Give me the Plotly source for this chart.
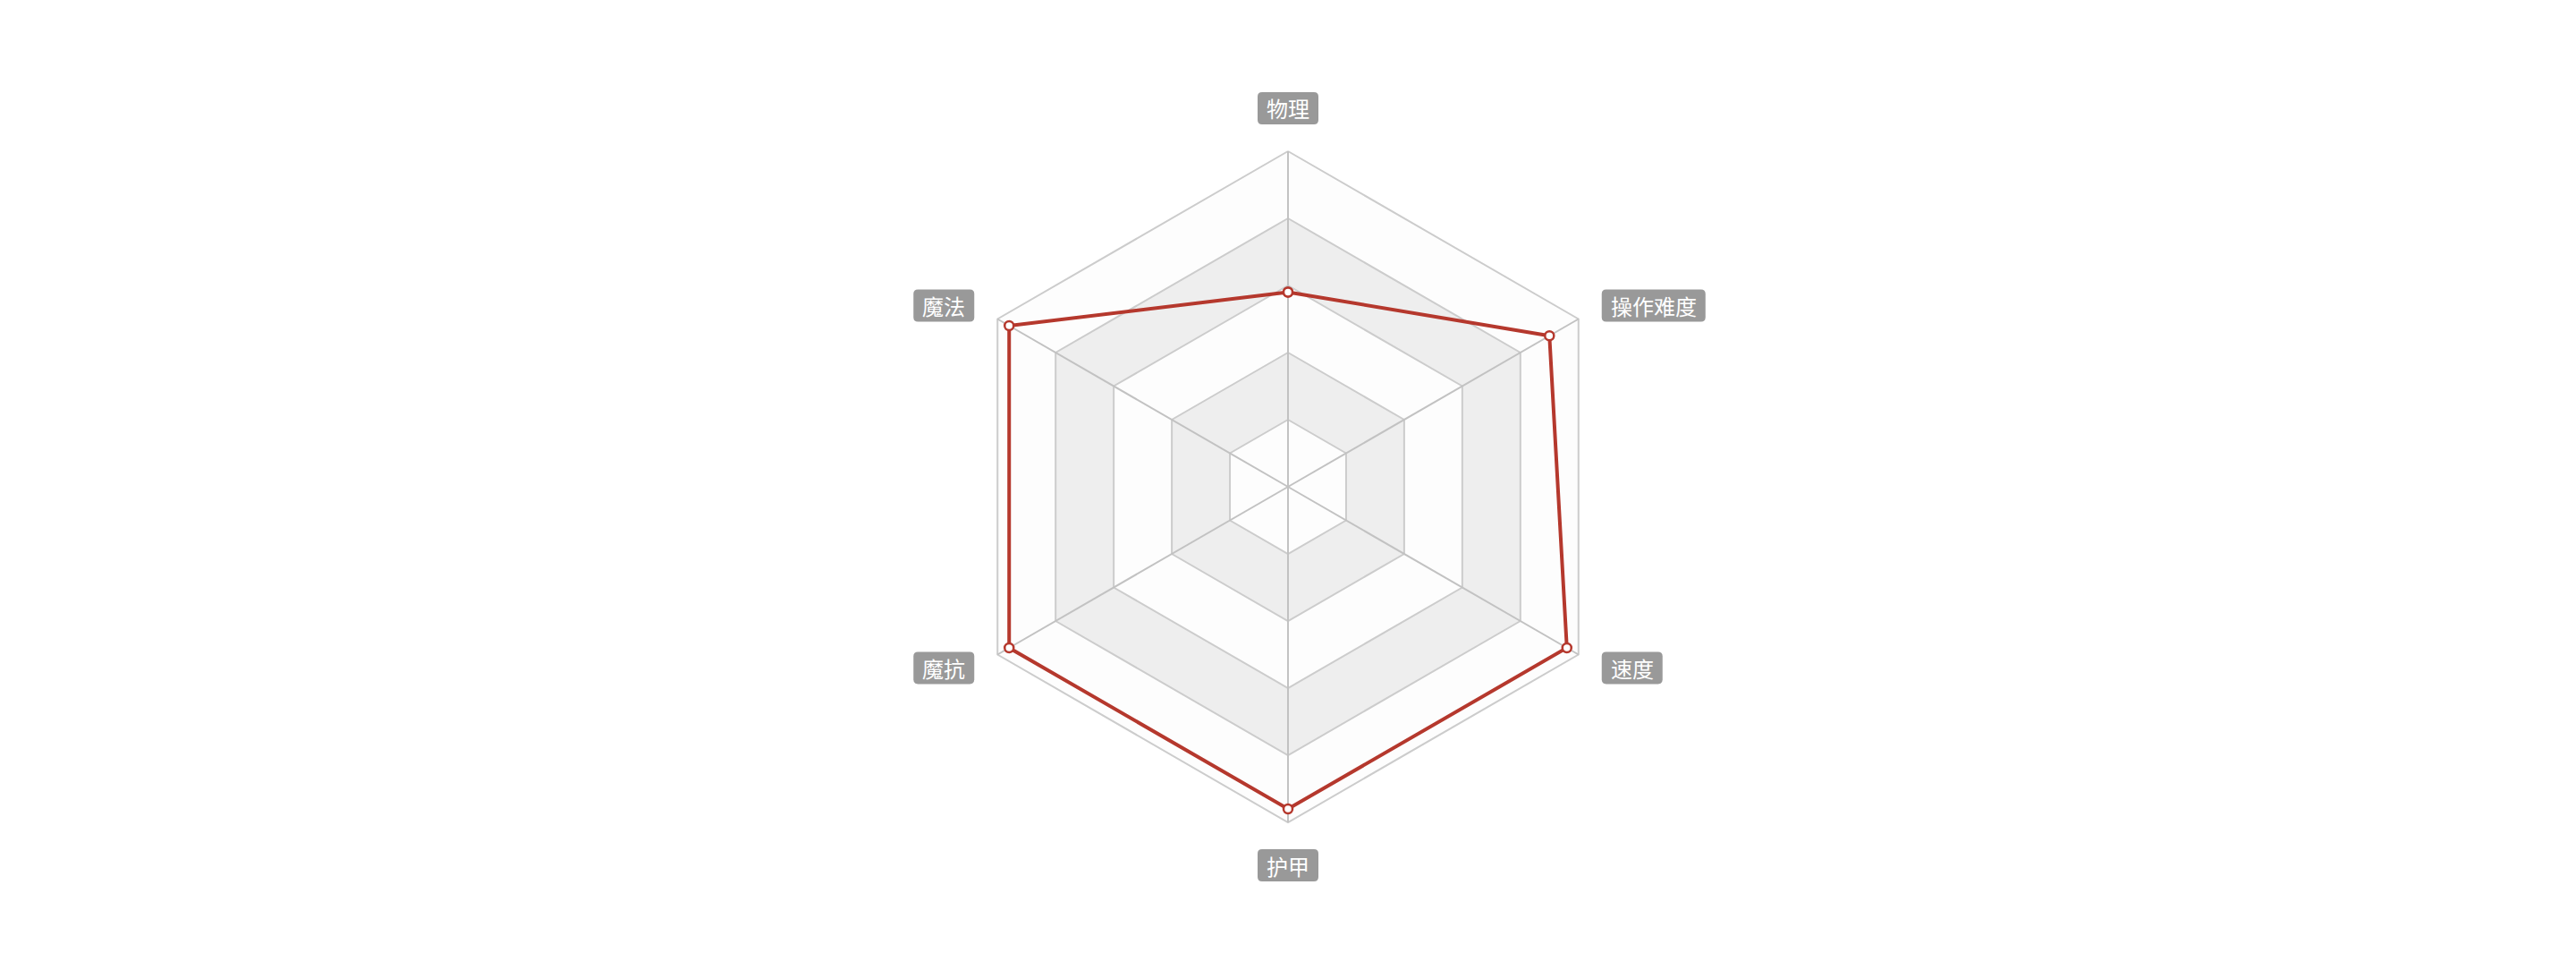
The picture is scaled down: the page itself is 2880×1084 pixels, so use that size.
import math
import plotly.graph_objects as go

# ---- data ----
categories = ['物理', '操作难度', '速度', '护甲', '魔抗', '魔法']
values = [58, 90, 96, 96, 96, 96]
max_value = 100
split_levels = [100, 80, 60, 40, 20]
band_colors = ['#fdfdfd', '#eeeeee', '#fdfdfd', '#eeeeee', '#fdfdfd']

# ---- layout constants ----
W, H = 2880, 1084
CX, CY = 1440, 544
R = 375
PAD = 1.03          # radial range headroom so the outer ring isn't clipped
LABEL_GAP = 30
FONT = 'Noto Sans CJK SC'
RED = '#b5382d'
GRID = '#cccccc'

closed_theta = categories + [categories[0]]

fig = go.Figure()

# split areas + split lines (outer to inner)
for lvl, col in zip(split_levels, band_colors):
    fig.add_trace(go.Scatterpolar(
        r=[lvl] * len(closed_theta), theta=closed_theta,
        mode='lines', fill='toself', fillcolor=col,
        line=dict(color=GRID, width=2), cliponaxis=False,
        hoverinfo='skip', showlegend=False))

# axis spokes
for c in categories:
    fig.add_trace(go.Scatterpolar(
        r=[0, max_value], theta=[c, c], mode='lines',
        line=dict(color='#c2c2c2', width=2), cliponaxis=False,
        hoverinfo='skip', showlegend=False))

# data series
fig.add_trace(go.Scatterpolar(
    r=values + [values[0]], theta=closed_theta,
    mode='lines+markers', cliponaxis=False,
    line=dict(color=RED, width=4),
    marker=dict(size=10, color='white', line=dict(color=RED, width=2.5)),
    showlegend=False))

# axis name labels with rounded grey boxes
shapes = []
annotations = []
def px2paper(x, y):
    return x / W, 1 - y / H

n = len(categories)
for i, c in enumerate(categories):
    ang = math.radians(90 - 360 / n * i)
    d = R + LABEL_GAP
    ax = CX + d * math.cos(ang)
    ay = CY - d * math.sin(ang)
    bw = 24 * len(c) + 20
    bh = 36
    cs = math.cos(ang)
    sn = math.sin(ang)
    if cs > 0.1:
        bx0 = ax
    elif cs < -0.1:
        bx0 = ax - bw
    else:
        bx0 = ax - bw / 2
    if abs(cs) <= 0.1:
        by0 = ay - bh if sn > 0 else ay
    else:
        by0 = ay - bh / 2
    bx1, by1 = bx0 + bw, by0 + bh
    rr = 5
    pts = [
        ('M', [(bx0 + rr, by0)]),
        ('L', [(bx1 - rr, by0)]),
        ('Q', [(bx1, by0), (bx1, by0 + rr)]),
        ('L', [(bx1, by1 - rr)]),
        ('Q', [(bx1, by1), (bx1 - rr, by1)]),
        ('L', [(bx0 + rr, by1)]),
        ('Q', [(bx0, by1), (bx0, by1 - rr)]),
        ('L', [(bx0, by0 + rr)]),
        ('Q', [(bx0, by0), (bx0 + rr, by0)]),
    ]
    path = ''
    for cmd, ps in pts:
        path += cmd + ' ' + ' '.join('%.6f,%.6f' % px2paper(x, y) for x, y in ps) + ' '
    path += 'Z'
    shapes.append(dict(type='path', path=path, xref='paper', yref='paper',
                       fillcolor='#999999', line=dict(width=0), layer='above'))
    tx, ty = px2paper((bx0 + bx1) / 2, (by0 + by1) / 2)
    annotations.append(dict(x=tx, y=ty, xref='paper', yref='paper',
                            text=c, showarrow=False, xanchor='center', yanchor='middle',
                            font=dict(family=FONT, size=24, color='white')))

RP = R * PAD
fig.update_layout(
    width=W, height=H,
    margin=dict(l=0, r=0, t=0, b=0),
    paper_bgcolor='white',
    font=dict(family=FONT),
    polar=dict(
        domain=dict(x=[(CX - RP) / W, (CX + RP) / W],
                    y=[1 - (CY + RP) / H, 1 - (CY - RP) / H]),
        gridshape='linear',
        bgcolor='rgba(0,0,0,0)',
        radialaxis=dict(visible=False, range=[0, max_value * PAD]),
        angularaxis=dict(visible=False, direction='clockwise', rotation=90,
                         categoryorder='array', categoryarray=categories),
    ),
    shapes=shapes,
    annotations=annotations,
)

fig.write_html('out.html', config={'displayModeBar': False},
               post_script="document.body.style.margin='0';")
